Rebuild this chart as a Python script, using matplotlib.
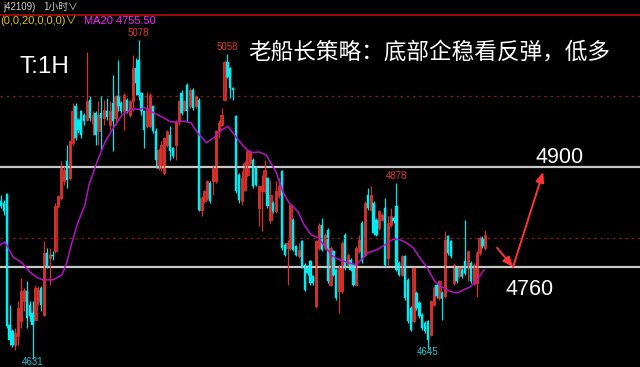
import matplotlib.pyplot as plt
import matplotlib.lines as mlines
import numpy as np

plt.rcParams['font.family'] = ['Liberation Sans', 'Noto Sans CJK SC', 'DejaVu Sans']

# 1 hour candles
opens = [4852, 4849, 4862, 4679, 4670, 4651, 4663, 4684, 4712, 4726,
         4707, 4695, 4686, 4712, 4730, 4693, 4779, 4772, 4777, 4782,
         4845, 4856, 4880, 4908, 4884, 4933, 4985, 4966, 4978, 4973,
         4966, 4994, 4961, 4975, 4950, 4975, 4968, 4978, 4959, 4989,
         4968, 4999, 4989, 4978, 4994, 4973, 4992, 5038, 5050, 5003,
         4978, 4957, 4957, 4985, 4950, 4898, 4898, 4891, 4931, 4945,
         4926, 4931, 4964, 5003, 4980, 5015, 4985, 5008, 4985, 4994,
         4840, 4852, 4856, 4877, 4880, 4880, 4950, 4959, 4994, 5047,
         5038, 5010, 4971, 4889, 4852, 4868, 4889, 4905, 4910, 4898,
         4842, 4866, 4866, 4884, 4826, 4849, 4838, 4861, 4894, 4791,
         4786, 4786, 4826, 4789, 4775, 4796, 4763, 4761, 4768, 4747,
         4705, 4786, 4819, 4786, 4812, 4735, 4782, 4756, 4726, 4726,
         4805, 4763, 4770, 4763, 4735, 4782, 4821, 4777, 4861, 4840,
         4849, 4826, 4814, 4826, 4842, 4772, 4819, 4828, 4845, 4765,
         4749, 4775, 4742, 4702, 4684, 4723, 4709, 4693, 4681, 4684,
         4665, 4707, 4735, 4716, 4723, 4719, 4803, 4796, 4737, 4758,
         4747, 4756, 4768, 4758, 4765, 4737, 4737, 4779, 4800, 4786]
highs = [4861, 4854, 4863, 4707, 4673, 4674, 4712, 4744, 4730, 4740,
         4712, 4712, 4735, 4733, 4733, 4796, 4786, 4786, 4782, 4849,
         4861, 4908, 4901, 4931, 4938, 4989, 4989, 4968, 4980, 4975,
         5061, 4999, 4978, 4978, 4992, 4999, 4994, 4996, 4992, 5029,
         5001, 5050, 4992, 5003, 4997, 4994, 5057, 5052, 5078, 5005,
         4980, 5005, 5003, 4987, 4954, 4926, 4936, 4942, 4952, 4957,
         4928, 4966, 4994, 5008, 4994, 5017, 5010, 5010, 5001, 4996,
         4859, 4868, 4882, 4880, 4901, 4952, 4966, 4982, 5050, 5058,
         5040, 5012, 4973, 4891, 4894, 4908, 4924, 4924, 4912, 4901,
         4875, 4889, 4910, 4886, 4882, 4852, 4880, 4884, 4896, 4793,
         4798, 4849, 4828, 4791, 4793, 4798, 4765, 4763, 4770, 4749,
         4798, 4821, 4828, 4807, 4814, 4789, 4784, 4758, 4763, 4796,
         4807, 4779, 4772, 4765, 4789, 4805, 4824, 4852, 4870, 4873,
         4852, 4828, 4840, 4835, 4856, 4831, 4842, 4831, 4878, 4768,
         4777, 4777, 4744, 4705, 4760, 4726, 4712, 4695, 4684, 4686,
         4714, 4733, 4737, 4742, 4726, 4810, 4805, 4798, 4765, 4760,
         4760, 4758, 4826, 4784, 4768, 4765, 4782, 4803, 4803, 4812]
lows = [4842, 4833, 4674, 4651, 4648, 4644, 4651, 4674, 4698, 4674,
        4684, 4631, 4684, 4707, 4698, 4691, 4758, 4735, 4770, 4779,
        4842, 4854, 4875, 4870, 4882, 4931, 4938, 4947, 4940, 4959,
        4964, 4964, 4945, 4931, 4931, 4924, 4959, 4966, 4952, 4922,
        4959, 4978, 4975, 4952, 4975, 4970, 4978, 5001, 4994, 4973,
        4926, 4954, 4954, 4947, 4898, 4896, 4894, 4889, 4928, 4910,
        4912, 4910, 4959, 4973, 4978, 4964, 4982, 4980, 4982, 4838,
        4831, 4849, 4854, 4849, 4861, 4877, 4940, 4957, 4992, 5024,
        4996, 4994, 4863, 4849, 4847, 4866, 4886, 4903, 4870, 4873,
        4817, 4810, 4863, 4842, 4821, 4835, 4835, 4856, 4784, 4775,
        4735, 4784, 4782, 4775, 4772, 4758, 4726, 4749, 4735, 4735,
        4702, 4784, 4782, 4784, 4737, 4733, 4747, 4714, 4695, 4723,
        4756, 4761, 4754, 4733, 4733, 4779, 4765, 4775, 4840, 4838,
        4805, 4803, 4812, 4824, 4761, 4763, 4816, 4821, 4754, 4747,
        4747, 4714, 4681, 4670, 4681, 4700, 4688, 4672, 4667, 4645,
        4663, 4705, 4716, 4714, 4686, 4716, 4777, 4772, 4735, 4737,
        4744, 4744, 4749, 4740, 4737, 4735, 4718, 4777, 4786, 4784]
closes = [4845, 4838, 4677, 4658, 4651, 4667, 4702, 4726, 4728, 4688,
          4691, 4679, 4730, 4728, 4707, 4779, 4761, 4777, 4775, 4845,
          4859, 4898, 4896, 4882, 4936, 4978, 4940, 4952, 4945, 4964,
          4992, 4968, 4973, 4945, 4973, 4968, 4980, 4970, 4978, 4964,
          4999, 4985, 4978, 5001, 4978, 4992, 5038, 5017, 5001, 4978,
          4952, 4982, 5001, 4950, 4910, 4924, 4931, 4940, 4950, 4922,
          4915, 4964, 4992, 4975, 4992, 4978, 5008, 4982, 4999, 4840,
          4856, 4866, 4880, 4852, 4898, 4950, 4961, 4973, 5047, 5026,
          5010, 5008, 4866, 4854, 4884, 4905, 4922, 4922, 4873, 4875,
          4873, 4873, 4896, 4845, 4861, 4838, 4866, 4873, 4786, 4777,
          4793, 4847, 4784, 4777, 4784, 4761, 4728, 4751, 4737, 4737,
          4796, 4819, 4784, 4805, 4740, 4786, 4749, 4716, 4758, 4793,
          4758, 4777, 4756, 4735, 4786, 4798, 4768, 4849, 4842, 4861,
          4807, 4805, 4838, 4833, 4763, 4821, 4831, 4824, 4756, 4749,
          4775, 4716, 4684, 4672, 4758, 4702, 4691, 4674, 4670, 4658,
          4712, 4730, 4719, 4740, 4716, 4798, 4779, 4775, 4763, 4740,
          4758, 4747, 4751, 4782, 4740, 4763, 4779, 4800, 4789, 4805]

# MA20 line as drawn on the chart (bar position, price)
ma_pos = [-0.35, 1.4, 4.2, 7.3, 10.1, 12.6, 14.7, 18.2, 21.3, 23.0, 24.8, 26.9,
          29.3, 30.7, 33.5, 36.3, 39.4, 42.2, 45.7, 48.5, 50.3, 52.7, 56.2, 59.3,
          63.9, 66.3, 68.4, 71.6, 74.3, 77.1, 79.2, 82.0, 84.8, 87.3, 90.1, 92.5,
          96.0, 98.4, 100.5, 103.7, 105.8, 108.2, 110.6, 113.4, 115.2, 117.6,
          121.1, 123.9, 125.7, 128.1, 131.6, 134.0, 136.8, 139.3, 141.4, 143.8,
          145.5, 148.7, 151.5, 154.3, 157.4, 159.5, 161.3, 163.7, 166.1, 168.6]
ma_val = [4791, 4795, 4774, 4766, 4753, 4745, 4742, 4742, 4749, 4767, 4795, 4823,
          4847, 4875, 4907, 4935, 4956, 4973, 4981, 4981, 4983, 4977, 4970, 4963,
          4964, 4962, 4949, 4934, 4941, 4952, 4957, 4942, 4928, 4920, 4921, 4917,
          4893, 4865, 4850, 4837, 4819, 4805, 4801, 4787, 4777, 4771,
          4766, 4763, 4770, 4780, 4785, 4791, 4799, 4798, 4794, 4787,
          4777, 4759, 4739, 4731, 4725, 4724, 4728, 4732, 4742, 4756]

high_marks = [48, 79, 138]
low_marks = [11, 149]
support = [4900, 4760]
grid_levels = [5000, 4800]
title = '老船长策略：底部企稳看反弹，低多'

W, H = 640, 367
fig = plt.figure(figsize=(6.4, 3.67), dpi=100, facecolor='black')
ax = fig.add_axes([0, 0, 1, 1])
ax.set_facecolor('black')
ax.set_xlim(-0.35, 223.0)
ax.set_ylim(4620, 5133.8)
ax.axis('off')

for lv in grid_levels:
    ax.axhline(lv, color='#8b1a1a', linestyle=(0, (2, 3)), linewidth=0.9)
for lv in support:
    ax.axhline(lv, color='#c8c8c8', linewidth=1.6)

idx = np.arange(len(closes))
o = np.array(opens)
c = np.array(closes)
up = c >= o
col = np.where(up, '#d9302c', '#00e8ee')
ax.vlines(idx, lows, highs, colors=col, linewidth=0.9)
body_lo = np.minimum(o, c)
body_h = np.maximum(np.abs(c - o), 1.4)
ax.bar(idx[up], body_h[up], bottom=body_lo[up], width=0.8,
       color='#a52824', edgecolor='#e0352f', linewidth=0.6)
ax.bar(idx[~up], body_h[~up], bottom=body_lo[~up], width=0.8,
       color='#00f0f5', edgecolor='#00f0f5', linewidth=0.3)

ax.plot(ma_pos, ma_val, color='#b810c8', linewidth=1.1)

for i in high_marks:
    ax.annotate(str(highs[i]), (i, highs[i]), xytext=(0, 1.5), textcoords='offset points',
                ha='center', va='bottom', color='#e03a30', fontsize=7)
for i in low_marks:
    ax.annotate(str(lows[i]), (i, lows[i]), xytext=(0, 1.5), textcoords='offset points',
                ha='center', va='top', color='#20c8d8', fontsize=7)

# strategy arrows
red = '#ff3535'
ax.annotate('', xy=(178.7, support[1]), xytext=(173.1, 4787),
            arrowprops=dict(arrowstyle='-|>,head_length=0.6,head_width=0.25',
                            color=red, lw=1.4, shrinkA=0, shrinkB=0))
ax.annotate('', xy=(189.2, 4893), xytext=(178.7, support[1]),
            arrowprops=dict(arrowstyle='-|>,head_length=0.6,head_width=0.25',
                            color=red, lw=1.4, shrinkA=0, shrinkB=0))
ax.text(186.4, support[0] + 13, str(support[0]), color='white', fontsize=15.5, va='center')
ax.text(175.9, support[1] - 31, str(support[1]), color='white', fontsize=15.5, va='center')

# overlay texts
fig.text(20 / W, 1 - 67 / H, 'T:1H', color='white', fontsize=17.5, va='center')
fig.text(248 / W, 1 - 52 / H, title, color='white', fontsize=16.3, va='center',
         family=['Noto Sans CJK SC', 'DejaVu Sans'])

# toolbar header
fig.add_artist(mlines.Line2D([0, 1], [1 - 14.5 / H] * 2, color='#b01010', linewidth=1.2))
fig.text(3 / W, 1 - 7 / H, 'j42109)', color='#d0d0d0', fontsize=7, va='center')
fig.text(43 / W, 1 - 7 / H, '1小时∨', color='#d0d0d0', fontsize=7, va='center',
         family=['Noto Sans CJK SC', 'DejaVu Sans'])
fig.text(0 / W, 1 - 21 / H, '(0,0,20,0,0,0)∨', color='#e0c020', fontsize=8, va='center')
fig.text(84 / W, 1 - 21 / H, 'MA20 4755.50', color='#ff20ff', fontsize=8, va='center')

fig.savefig('out.png', dpi=100, facecolor='black')
